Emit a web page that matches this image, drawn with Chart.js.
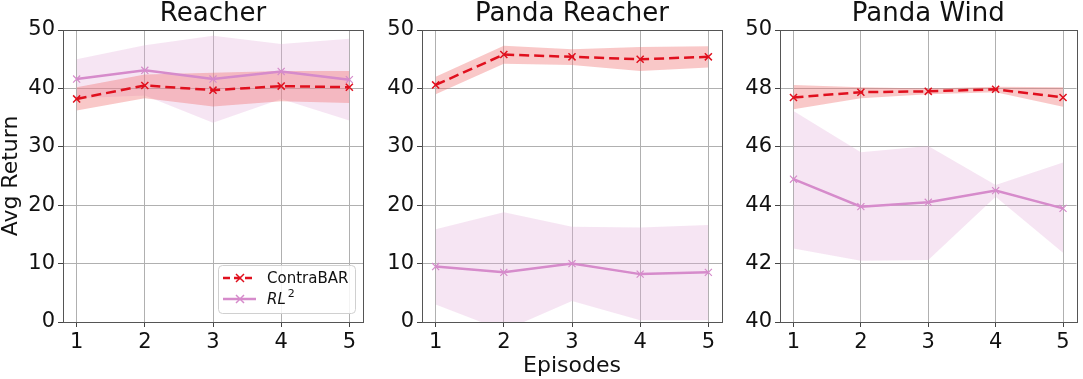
<!DOCTYPE html>
<html>
<head>
<meta charset="utf-8">
<script src="https://cdn.jsdelivr.net/npm/chart.js@4.4.1/dist/chart.umd.min.js"></script>
<style>
  html, body { margin: 0; padding: 0; background: #fff; }
  body { width: 1083px; height: 379px; position: relative; overflow: hidden; }
  .panel { position: absolute; top: 0; height: 379px; }
</style>
</head>
<body>
<div class="panel" style="left:0;width:370px"><canvas id="c1"></canvas></div>
<div class="panel" style="left:370px;width:362px"><canvas id="c2"></canvas></div>
<div class="panel" style="left:730px;width:353px"><canvas id="c3"></canvas></div>
<script>
// episodes on x
const episodes = [1, 2, 3, 4, 5];

// Reacher
const reacherContra   = [38.2, 40.5, 39.7, 40.4, 40.2];
const reacherContraHi = [40.2, 42.4, 42.7, 43.0, 43.0];
const reacherContraLo = [36.2, 38.3, 36.9, 37.8, 37.5];
const reacherRl2      = [41.6, 43.1, 41.6, 42.9, 41.5];
const reacherRl2Hi    = [45.0, 47.4, 49.0, 47.6, 48.5];
const reacherRl2Lo    = [38.3, 38.8, 34.1, 38.2, 34.5];

// Panda Reacher
const pandaContra   = [40.6, 45.8, 45.4, 45.0, 45.4];
const pandaContraHi = [42.0, 47.3, 46.7, 47.1, 47.2];
const pandaContraLo = [39.0, 44.2, 44.0, 43.0, 43.6];
const pandaRl2      = [9.5, 8.5, 10.0, 8.2, 8.5];
const pandaRl2Hi    = [15.9, 18.8, 16.3, 16.2, 16.6];
const pandaRl2Lo    = [3.0, -1.5, 3.6, 0.3, 0.3];

// Panda Wind
const windContra   = [47.69, 47.87, 47.9, 47.97, 47.69];
const windContraHi = [48.12, 48.04, 48.0, 48.06, 48.04];
const windContraLo = [47.29, 47.66, 47.8, 47.87, 47.37];
const windRl2      = [44.89, 43.95, 44.1, 44.5, 43.89];
const windRl2Hi    = [47.23, 45.81, 46.03, 44.69, 45.46];
const windRl2Lo    = [42.52, 42.1, 42.12, 44.29, 42.37];

const RED = '#e0101e';
const RED_BAND = 'rgba(240,110,110,0.38)';
const PINK = '#d68bcb';
const PINK_BAND = 'rgba(225,170,215,0.30)';
const FONT = "'DejaVu Sans', sans-serif";

// spines all round, like matplotlib, plus title centred on the plot area
const frame = {
  id: 'frame',
  afterDatasetsDraw(chart) {
    const a = chart.chartArea, ctx = chart.ctx;
    ctx.save();
    ctx.strokeStyle = '#555';
    ctx.lineWidth = 1;
    ctx.strokeRect(Math.round(a.left) + 0.5, Math.round(a.top) + 0.5,
      Math.round(a.right - a.left), Math.round(a.bottom - a.top));
    ctx.restore();
  },
  afterDraw(chart, args, o) {
    const a = chart.chartArea, ctx = chart.ctx;
    ctx.save();
    ctx.font = '26px ' + FONT;
    ctx.fillStyle = '#111';
    ctx.textAlign = 'center';
    ctx.textBaseline = 'alphabetic';
    ctx.fillText(o.text, (a.left + a.right) / 2, 21);
    ctx.restore();
  }
};

// legend box in the lower right of the first panel
const legendBox = {
  id: 'legendBox',
  afterDraw(chart) {
    const a = chart.chartArea, ctx = chart.ctx;
    const w = 137, h = 48;
    const x = a.right - w - 8, y = a.bottom - h - 9;
    ctx.save();
    ctx.beginPath();
    ctx.roundRect(x + 0.5, y + 0.5, w, h, 4);
    ctx.fillStyle = 'rgba(255,255,255,0.85)';
    ctx.fill();
    ctx.strokeStyle = '#d0d0d0';
    ctx.lineWidth = 1;
    ctx.stroke();
    const rows = [
      { color: RED, dash: [7, 4], text: 'ContraBAR' },
      { color: PINK, dash: [], text: 'RL' }
    ];
    rows.forEach((r, i) => {
      const cy = y + 13 + i * 21;
      ctx.strokeStyle = r.color;
      ctx.lineWidth = 2.5;
      ctx.setLineDash(r.dash);
      ctx.beginPath();
      ctx.moveTo(x + 5, cy); ctx.lineTo(x + 38, cy);
      ctx.stroke();
      ctx.setLineDash([]);
      ctx.lineWidth = 1.5;
      ctx.beginPath();
      ctx.moveTo(x + 18, cy - 4); ctx.lineTo(x + 26, cy + 4);
      ctx.moveTo(x + 26, cy - 4); ctx.lineTo(x + 18, cy + 4);
      ctx.stroke();
      ctx.fillStyle = '#111';
      ctx.textBaseline = 'middle';
      if (i === 0) {
        ctx.font = '15px ' + FONT;
        ctx.fillText(r.text, x + 49, cy + 1);
      } else {
        ctx.font = 'italic 15px ' + FONT;
        ctx.fillText(r.text, x + 49, cy + 1);
        const tw = ctx.measureText(r.text).width;
        ctx.font = '11px ' + FONT;
        ctx.fillText('2', x + 51 + tw, cy - 5);
      }
    });
    ctx.restore();
  }
};

function makePanel(id, opts) {
  const datasets = [
    { data: opts.contra, borderColor: RED, backgroundColor: RED, borderWidth: 2.5,
      borderDash: [10, 5], pointStyle: 'crossRot', pointRadius: 5, pointBorderWidth: 1.5,
      fill: false, order: 0 },
    { data: opts.rl2, borderColor: PINK, backgroundColor: PINK, borderWidth: 2.5,
      pointStyle: 'crossRot', pointRadius: 5, pointBorderWidth: 1.2, fill: false, order: 1 },
    { data: opts.contraHi, borderWidth: 0, pointRadius: 0, fill: '+1',
      backgroundColor: RED_BAND, order: 2 },
    { data: opts.contraLo, borderWidth: 0, pointRadius: 0, fill: false, order: 3 },
    { data: opts.rl2Hi, borderWidth: 0, pointRadius: 0, fill: '+1',
      backgroundColor: PINK_BAND, order: 4 },
    { data: opts.rl2Lo, borderWidth: 0, pointRadius: 0, fill: false, order: 5 }
  ];
  return new Chart(document.getElementById(id), {
    type: 'line',
    data: { labels: episodes, datasets },
    plugins: [frame].concat(opts.legend ? [legendBox] : []),
    options: {
      responsive: true,
      maintainAspectRatio: false,
      animation: false,
      layout: { padding: { left: 0, right: opts.padRight, top: 30, bottom: 0 } },
      plugins: {
        legend: { display: false },
        tooltip: { enabled: false },
        title: { display: false },
        frame: { text: opts.title }
      },
      scales: {
        x: {
          type: 'linear', min: 0.8, max: 5.2,
          afterBuildTicks: s => { s.ticks = episodes.map(v => ({ value: v })); },
          afterFit: s => { s.height = 57; },
          grid: { color: '#b0b0b0', lineWidth: 1, tickColor: '#444', tickLength: 5, drawTicks: true },
          border: { display: false },
          ticks: { color: '#111', padding: 3, maxRotation: 0,
                   font: { family: FONT, size: 21 } },
          title: opts.xTitle ? { display: true, text: opts.xTitle, color: '#111',
                   font: { family: FONT, size: 22 }, padding: { top: 0, bottom: 0 } } : { display: false }
        },
        y: {
          min: opts.yMin, max: opts.yMax,
          afterBuildTicks: s => { s.ticks = opts.yTicks.map(v => ({ value: v })); },
          afterFit: s => { s.width = opts.yWidth; },
          grid: { color: '#b0b0b0', lineWidth: 1, tickColor: '#444', tickLength: 5 },
          border: { display: false },
          ticks: { color: '#111', padding: 3, font: { family: FONT, size: 21 } },
          title: opts.yTitle ? { display: true, text: opts.yTitle, color: '#111',
                   font: { family: FONT, size: 22, lineHeight: 1 }, padding: { top: 0, bottom: 0 } } : { display: false }
        }
      }
    }
  });
}

makePanel('c1', {
  title: 'Reacher', contra: reacherContra, contraHi: reacherContraHi, contraLo: reacherContraLo,
  rl2: reacherRl2, rl2Hi: reacherRl2Hi, rl2Lo: reacherRl2Lo,
  yMin: 0, yMax: 50, yTicks: [0, 10, 20, 30, 40, 50], yWidth: 63, padRight: 7,
  yTitle: 'Avg Return', legend: true
});
makePanel('c2', {
  title: 'Panda Reacher', contra: pandaContra, contraHi: pandaContraHi, contraLo: pandaContraLo,
  rl2: pandaRl2, rl2Hi: pandaRl2Hi, rl2Lo: pandaRl2Lo,
  yMin: 0, yMax: 50, yTicks: [0, 10, 20, 30, 40, 50], yWidth: 52, padRight: 10,
  xTitle: 'Episodes'
});
makePanel('c3', {
  title: 'Panda Wind', contra: windContra, contraHi: windContraHi, contraLo: windContraLo,
  rl2: windRl2, rl2Hi: windRl2Hi, rl2Lo: windRl2Lo,
  yMin: 40, yMax: 50, yTicks: [40, 42, 44, 46, 48, 50], yWidth: 50, padRight: 3
});
</script>
</body>
</html>
